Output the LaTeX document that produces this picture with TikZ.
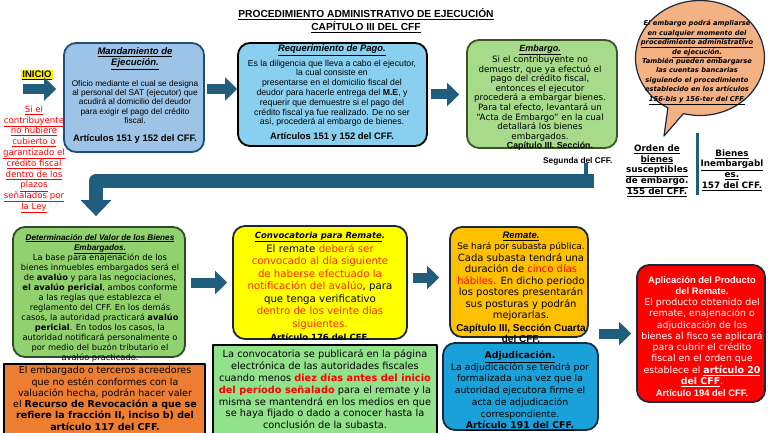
\documentclass[tikz,border=0pt]{standalone}
\usepackage{fontspec}
\setmainfont{Liberation Sans}
\newfontfamily\verd{DejaVu Sans}
\usetikzlibrary{arrows.meta,positioning,shapes.callouts}

\definecolor{flecha}{RGB}{33,94,126}
\definecolor{borde}{RGB}{25,40,60}
\definecolor{azuloscuro}{RGB}{31,78,121}
\definecolor{verdeoscuro}{RGB}{56,87,35}
\definecolor{verdeborde}{RGB}{45,75,40}
\definecolor{azulclaro}{RGB}{157,195,230}
\definecolor{celeste}{RGB}{137,208,240}
\definecolor{verdeclaro}{RGB}{168,218,140}
\definecolor{salmon}{RGB}{244,177,131}
\definecolor{verde}{RGB}{146,210,110}
\definecolor{amarillo}{RGB}{255,255,0}
\definecolor{ambar}{RGB}{255,192,0}
\definecolor{rojo}{RGB}{255,0,0}
\definecolor{naranja}{RGB}{237,125,49}
\definecolor{verdepalido}{RGB}{146,226,140}
\definecolor{azul}{RGB}{27,161,218}
\definecolor{rojotxt}{RGB}{255,40,0}

\newcommand\fs[2]{\fontsize{#1}{#2}\selectfont}

\begin{document}
\begin{tikzpicture}[x=1pt, y=-1pt, line join=round,
    caja/.style={rounded corners=12pt, line width=1.8pt, draw=borde, inner sep=0pt},
    txt/.style={align=center, inner sep=0pt},
    flechita/.style={draw=flecha, line width=10pt, -{Triangle[width=23pt,length=12pt]}}]
	% Fixed frame of the slide
	\useasboundingbox (0,0) rectangle (768,433);
	
	% Title
	\node[txt, font=\bfseries\fs{10.2}{13}] (titulo) at (366,20.5)
	{\underline{PROCEDIMIENTO ADMINISTRATIVO DE EJECUCIÓN}\\\underline{CAPÍTULO III DEL CFF}};
	
	% Start and condition
	\node[txt, fill=yellow, inner sep=1pt, font=\bfseries\fs{9.5}{11}] (inicio) at (37,75) {\underline{INICIO}};
	\coordinate (ini) at (23,89);
	\node[txt, text=red, font=\verd\fs{8.6}{10.6}] (nota) at (34,159.5)
	{\underline{Si el}\\\underline{contribuyente}\\\underline{no hubiere}\\\underline{cubierto o}\\\underline{garantizado el}\\\underline{crédito fiscal}\\\underline{dentro de los}\\\underline{plazos}\\\underline{señalados por}\\\underline{la Ley}};
	
	% Mandamiento de ejecucion
	\node[caja, draw=azuloscuro, fill=azulclaro, minimum width=140, minimum height=109] (mand) at (134,97.5) {};
	\node[txt, font=\bfseries\itshape\fs{9.5}{11}] (mandtit) at (135,58.5) {\underline{Mandamiento de}\\\underline{Ejecución.}};
	\node[txt, font=\fs{8.3}{9.1}] (mandtxt) at (135,102)
	{Oficio mediante el cual se designa\\al personal del SAT (ejecutor) que\\acudirá al domicilio del deudor\\para exigir el pago del crédito\\fiscal.};
	\node[txt, font=\bfseries\fs{9.4}{11}] (mandart) at (135,139) {Artículos 151 y 152 del CFF.};
	
	% Requerimiento de pago
	\node[caja, draw=black, fill=celeste, minimum width=189, minimum height=103] (req) at (332.5,94.5) {};
	\node[txt, font=\bfseries\itshape\fs{9.4}{11}] (reqtit) at (332,50) {\underline{Requerimiento de Pago.}};
	\node[txt, font=\fs{8.7}{9.8}] (reqtxt) at (332,93.3)
	{Es la diligencia que lleva a cabo el ejecutor,\\la cual consiste en\\presentarse en el domicilio fiscal del\\deudor para hacerle entrega del \textbf{M.E}, y\\requerir que demuestre si el pago del\\crédito fiscal ya fue realizado. De no ser\\así, procederá al embargo de bienes.};
	\node[txt, font=\bfseries\fs{9.4}{11}] (reqart) at (332,136.7) {Artículos 151 y 152 del CFF.};
	
	% Embargo
	\node[caja, draw=verdeoscuro, fill=verdeclaro, minimum width=150, minimum height=108] (emb) at (542,94) {};
	\node[txt, font=\bfseries\itshape\fs{9}{11}] (embtit) at (540,50) {\underline{Embargo.}};
	\node[txt, font=\verd\fs{8.7}{9.6}] (embtxt) at (540,98.5)
	{Si el contribuyente no\\demuestr, que ya efectuó el\\pago del crédito fiscal,\\entonces el ejecutor\\procederá a embargar bienes.\\Para tal efecto, levantará un\\“Acta de Embargo” en la cual\\detallará los bienes\\embargados.};
	\node[txt, font=\bfseries\fs{8.8}{10}] (embart) at (550,146) {Capítulo III. Sección.};
	\node[txt, font=\bfseries\fs{8.3}{10}, anchor=west] (embart2) at (543,161) {Segunda del CFF.};
	
	% Callout on widening the seizure
	\node[ellipse callout, draw=borde, line width=1.2pt, fill=salmon, minimum width=129, minimum height=115,
	callout absolute pointer={(664,136)}] (globo) at (700,58) {};
	\node[txt, font=\verd\bfseries\itshape\fs{6.7}{9.4}] (globotxt) at (697,62.5)
	{El embargo podrá ampliarse\\\underline{en cualquier momento del}\\\underline{procedimiento administrativo}\\\underline{de ejecución.}\\También pueden embargarse\\las cuentas bancarias\\siguiendo el procedimiento\\establecido en los artículos\\\underline{156-bis y 156-ter del CFF.}};
	
	% Orden de bienes / inembargables
	\node[txt, font=\verd\bfseries\fs{8.8}{10.7}] (orden) at (657,170.5)
	{\underline{Orden de}\\\underline{bienes}\\\underline{susceptibles}\\\underline{de embargo.}\\\underline{155 del CFF.}};
	\draw[flecha, line width=3pt] (697,133) -- (697,195);
	\node[txt, font=\verd\bfseries\fs{8.8}{10.7}] (inemb) at (732,170)
	{\underline{Bienes}\\\underline{Inembargabl}\\\underline{es.}\\\underline{157 del CFF.}};
	
	% Connectors along the top row
	\draw[flechita, shorten >=7pt] (ini) -- (ini -| mand.west);
	\draw[flechita, shorten <=2pt] (mand.east |- ini) -- (req.west |- ini);
	\draw[flechita, shorten <=3pt, shorten >=7pt] (req.east) -- (req.east -| emb.west);
	
	% Determinacion del valor
	\node[caja, draw=verdeborde, fill=verde, minimum width=172, minimum height=130] (det) at (99,292) {};
	\node[txt, font=\bfseries\itshape\fs{8.2}{10}] (dettit) at (100,244)
	{\underline{Determinación del Valor de los Bienes}\\\underline{Embargados.}};
	\node[txt, font=\verd\fs{8.3}{10}] (dettxt) at (100,308)
	{La base para enajenación de los\\bienes inmuebles embargados será el\\de \textbf{avalúo} y para las negociaciones,\\\textbf{el avalúo pericial}, ambos conforme\\a las reglas que establezca el\\reglamento del CFF. En los demás\\casos, la autoridad practicará \textbf{avalúo}\\\textbf{pericial}. En todos los casos, la\\autoridad notificará personalmente o\\por medio del buzón tributario el\\avalúo practicado.};
	
	% Bent connector down to the second row
	\coordinate (barra) at (594,181);
	\coordinate (tope) at (586,163);
	\draw[flecha, line width=4pt] (tope) -- (tope |- barra);
	\draw[flecha, line width=14pt, -{Triangle[width=30pt,length=16pt]}] (barra) -| ([xshift=-3pt,yshift=10pt]det.north);
	
	% Convocatoria para remate
	\node[caja, fill=amarillo, minimum width=174, minimum height=113] (conv) at (320,282.5) {};
	\node[txt, font=\verd\bfseries\itshape\fs{8.5}{10}] (convtit) at (320,237) {\underline{Convocatoria para Remate}.};
	\node[txt, font=\verd\fs{10.2}{12.5}] (convtxt) at (320,286.5)
	{El remate \textcolor{rojotxt}{deberá ser}\\\textcolor{rojotxt}{convocado al día siguiente}\\\textcolor{rojotxt}{de haberse efectuado la}\\\textcolor{rojotxt}{notificación del avalúo}, para\\que tenga verificativo\\\textcolor{rojotxt}{dentro de los veinte días}\\\textcolor{rojotxt}{siguientes.}};
	\node[txt, font=\verd\bfseries\fs{8.5}{10}] (convart) at (320,337) {Artículo 176 del CFF.};
	
	% Remate
	\node[caja, fill=ambar, minimum width=138, minimum height=110] (rem) at (519,282) {};
	\node[txt, font=\bfseries\itshape\fs{9.5}{11}] (remtit) at (521,236) {\underline{Remate.}};
	\node[txt, font=\verd\fs{10}{11.5}] (remtxt) at (521,281.5)
	{{\fs{8.9}{11.5}Se hará por subasta pública.}\\Cada subasta tendrá una\\duración de \textcolor{red}{cinco días}\\\textcolor{red}{hábiles.} En dicho periodo\\los postores presentarán\\sus posturas y podrán\\mejorarlas.};
	\node[txt, font=\bfseries\fs{10}{11}] (remart) at (521,333.5) {Capítulo III, Sección Cuarta\\del CFF.};
	
	% Aplicacion del producto
	\node[caja, fill=rojo, minimum width=128, minimum height=137] (apl) at (701,333.5) {};
	\node[txt, text=white, font=\bfseries\fs{9.4}{11}] (apltit) at (702,285.5) {Aplicación del Producto\\del Remate.};
	\node[txt, text=white, font=\verd\fs{9.4}{11.3}] (apltxt) at (702,342.5)
	{El producto obtenido del\\remate, enajenación o\\adjudicación de los\\bienes al fisco se aplicará\\para cubrir el crédito\\fiscal en el orden que\\establece el \textbf{\underline{artículo 20}}\\\textbf{\underline{del CFF}}.};
	\node[txt, text=white, font=\bfseries\fs{9.4}{11}] (aplart) at (702,393) {Artículo 194 del CFF.};
	
	% Connectors along the second row
	\draw[flechita, shorten <=5pt, shorten >=5pt] (det.east |- conv.west) -- (conv.west);
	\draw[flechita, shorten <=5pt, shorten >=10pt] ([yshift=5pt]conv.east) -- ([yshift=5pt]conv.east -| rem.west);
	\draw[flechita, shorten <=10pt, shorten >=5pt] (rem.east |- apl.west) -- (apl.west);
	
	% Recurso de revocacion
	\node[caja, rounded corners=0pt, draw=black, line width=2.2pt, fill=naranja, minimum width=201, minimum height=81] (recurso) at (104.5,404.5) {};
	\node[txt, font=\verd\fs{9.5}{11.3}] (recursotxt) at (105,398.5)
	{El embargado o terceros acreedores\\que no estén conformes con la\\valuación hecha, podrán hacer valer\\el \textbf{Recurso de Revocación a que se}\\\textbf{refiere la fracción II, inciso b) del}\\\textbf{artículo 117 del CFF.}};
	
	% Publicacion de la convocatoria
	\node[caja, rounded corners=0pt, draw=black, line width=2.8pt, fill=verdepalido, minimum width=224, minimum height=100] (publica) at (325,395) {};
	\node[txt, font=\verd\fs{9.8}{11.8}] (publicatxt) at (325,389.5)
	{La convocatoria se publicará en la página\\electrónica de las autoridades fiscales\\cuando menos \textcolor{red}{\textbf{diez días antes del inicio}}\\\textcolor{red}{\textbf{del período señalado}} para el remate y la\\misma se mantendrá en los medios en que\\se haya fijado o dado a conocer hasta la\\conclusión de la subasta.};
	
	% Adjudicacion
	\node[caja, fill=azul, minimum width=155, minimum height=87] (adj) at (520.5,386.5) {};
	\node[txt, font=\verd\fs{9.3}{11.7}] (adjtxt) at (520,391)
	{\textbf{\underline{Adjudicación.}}\\La adjudicación se tendrá por\\formalizada una vez que la\\autoridad ejecutora firme el\\acta de adjudicación\\correspondiente.\\\textbf{\underline{Artículo 191 del CFF.}}};
\end{tikzpicture}
\end{document}
